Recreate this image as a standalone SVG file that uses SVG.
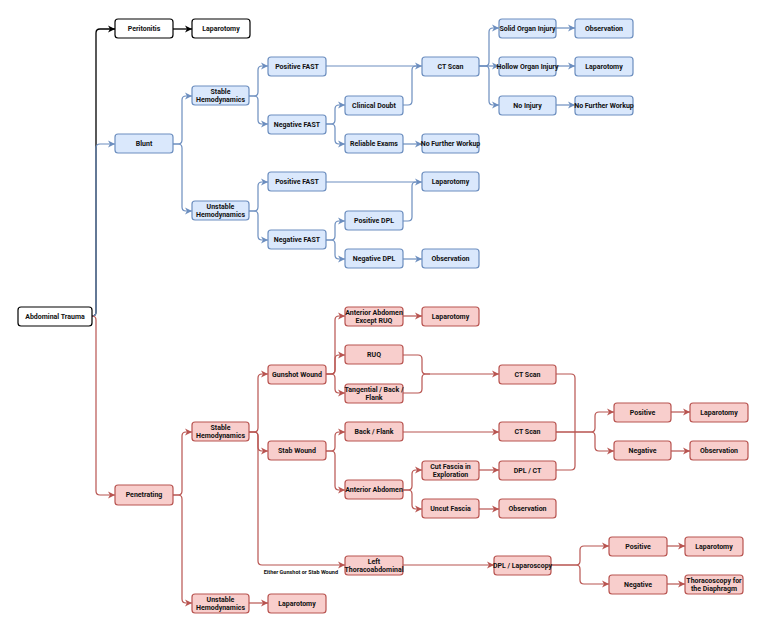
<svg xmlns="http://www.w3.org/2000/svg" width="768" height="634" viewBox="0 0 768 634">
<style>
text{font-family:Roboto,"Liberation Sans",sans-serif;font-size:7px;font-weight:bold;fill:#111;text-anchor:middle}
.k rect{fill:#fff;stroke:#000;stroke-width:1.2}
.b rect{fill:#dae8fc;stroke:#6c8ebf;stroke-width:1.2}
.r rect{fill:#f8cecc;stroke:#b85450;stroke-width:1.2}
.ck path{fill:none;stroke:#000;stroke-width:1.3}
.cb path{fill:none;stroke:#6c8ebf;stroke-width:1.2}
.cr path{fill:none;stroke:#b85450;stroke-width:1.2}
.ck path.a{marker-end:url(#mk)}
.cb path.a{marker-end:url(#mb)}
.cr path.a{marker-end:url(#mr)}
</style>
<defs>
<marker id="mk" markerUnits="userSpaceOnUse" markerWidth="8" markerHeight="8" refX="7" refY="4" orient="auto"><path d="M0,0.5 L7,4 L0,7.5 L2,4 Z" fill="#000"/></marker>
<marker id="mb" markerUnits="userSpaceOnUse" markerWidth="8" markerHeight="8" refX="7" refY="4" orient="auto"><path d="M0,0.5 L7,4 L0,7.5 L2,4 Z" fill="#6c8ebf"/></marker>
<marker id="mr" markerUnits="userSpaceOnUse" markerWidth="8" markerHeight="8" refX="7" refY="4" orient="auto"><path d="M0,0.5 L7,4 L0,7.5 L2,4 Z" fill="#b85450"/></marker>
</defs>
<rect width="768" height="634" fill="#fff"/>
<g id="connectors">
<g class="ck">
<path class="a" d="M92 316 Q96 316 96 312 V33 Q96 29 100 29 H115"/>
<path class="a" d="M173 29 H192"/>
</g>
<g class="cb">
<path class="a" d="M92 316 Q96 316 96 312 V148 Q96 144 100 144 H115"/>
<path class="a" d="M173 144 H178 Q182 144 182 140 V100 Q182 96 186 96 H192"/>
<path class="a" d="M173 144 H178 Q182 144 182 148 V207 Q182 211 186 211 H192"/>
<path class="a" d="M249 96 H254 Q258 96 258 92 V70 Q258 66 262 66 H268"/>
<path class="a" d="M249 96 H254 Q258 96 258 100 V120 Q258 124 262 124 H268"/>
<path class="a" d="M326 124 H331 Q335 124 335 120 V109 Q335 105 339 105 H345"/>
<path class="a" d="M326 124 H331 Q335 124 335 128 V140 Q335 144 339 144 H345"/>
<path class="a" d="M326 66 H422"/>
<path d="M403 105 H408 Q412 105 412 101 V70 Q412 66 416 66 H418"/>
<path class="a" d="M403 144 H422"/>
<path class="a" d="M479 66 H485 Q489 66 489 62 V32 Q489 28 493 28 H499"/>
<path class="a" d="M479 66 H499"/>
<path class="a" d="M479 66 H485 Q489 66 489 70 V101 Q489 105 493 105 H499"/>
<path class="a" d="M556 28 H575"/>
<path class="a" d="M556 66 H575"/>
<path class="a" d="M556 105 H575"/>
<path class="a" d="M249 211 H254 Q258 211 258 207 V186 Q258 182 262 182 H268"/>
<path class="a" d="M249 211 H254 Q258 211 258 215 V236 Q258 240 262 240 H268"/>
<path class="a" d="M326 240 H331 Q335 240 335 236 V225 Q335 221 339 221 H345"/>
<path class="a" d="M326 240 H331 Q335 240 335 244 V255 Q335 259 339 259 H345"/>
<path class="a" d="M326 182 H422"/>
<path d="M403 221 H408 Q412 221 412 217 V186 Q412 182 416 182 H418"/>
<path class="a" d="M403 259 H422"/>
</g>
<g class="cr">
<path class="a" d="M92 316 Q96 316 96 320 V491 Q96 495 100 495 H115"/>
<path class="a" d="M173 495 H178 Q182 495 182 491 V436 Q182 432 186 432 H192"/>
<path class="a" d="M173 495 H178 Q182 495 182 499 V599 Q182 603 186 603 H192"/>
<path class="a" d="M249 432 H254 Q258 432 258 428 V378 Q258 374 262 374 H268"/>
<path class="a" d="M249 432 H254 Q258 432 258 436 V447 Q258 451 262 451 H268"/>
<path class="a" d="M249 432 H254 Q258 432 258 436 V561 Q258 565 262 565 H345"/>
<path class="a" d="M326 374 H331 Q335 374 335 370 V320 Q335 316 339 316 H345"/>
<path class="a" d="M326 374 H331 Q335 374 335 370 V359 Q335 355 339 355 H345"/>
<path class="a" d="M326 374 H331 Q335 374 335 378 V389 Q335 393 339 393 H345"/>
<path class="a" d="M403 316 H422"/>
<path class="a" d="M403 355 H418 Q422 355 422 359 V370 Q422 374 426 374 H499"/>
<path d="M403 393 H418 Q422 393 422 389 V378 Q422 374 426 374 H430"/>
<path class="a" d="M326 451 H331 Q335 451 335 447 V436 Q335 432 339 432 H345"/>
<path class="a" d="M326 451 H331 Q335 451 335 455 V486 Q335 490 339 490 H345"/>
<path class="a" d="M403 432 H499"/>
<path class="a" d="M403 490 H408 Q412 490 412 486 V474 Q412 470 416 470 H422"/>
<path class="a" d="M403 490 H408 Q412 490 412 494 V505 Q412 509 416 509 H422"/>
<path class="a" d="M479 470 H499"/>
<path class="a" d="M479 509 H499"/>
<path d="M556 374 H571 Q575 374 575 378 V466 Q575 470 571 470 H556"/>
<path class="a" d="M556 432 H591 Q595 432 595 428 V416 Q595 412 599 412 H614"/>
<path class="a" d="M556 432 H591 Q595 432 595 436 V447 Q595 451 599 451 H614"/>
<path class="a" d="M671 412 H690"/>
<path class="a" d="M671 451 H690"/>
<path class="a" d="M403 565 H494"/>
<path class="a" d="M551 565 H576 Q580 565 580 561 V550 Q580 546 584 546 H609"/>
<path class="a" d="M551 565 H576 Q580 565 580 569 V580 Q580 584 584 584 H609"/>
<path class="a" d="M667 546 H685"/>
<path class="a" d="M667 584 H685"/>
<path class="a" d="M249 603 H268"/>
</g>
<text x="338" y="574" style="font-size:5.5px;text-anchor:end">Either Gunshot or Stab Wound</text>
</g>
<g id="abdominal-trauma" class="k"><rect x="18" y="307" width="74" height="19" rx="3"/><text x="55" y="319">Abdominal Trauma</text></g>
<g id="peritonitis" class="k"><rect x="115" y="19" width="58" height="19" rx="3"/><text x="144" y="31">Peritonitis</text></g>
<g id="lap-peritonitis" class="k"><rect x="192" y="19" width="58" height="19" rx="3"/><text x="221" y="31">Laparotomy</text></g>
<g id="blunt" class="b"><rect x="115" y="134" width="58" height="19" rx="3"/><text x="144" y="146">Blunt</text></g>
<g id="b-stable" class="b"><rect x="192" y="86" width="57" height="19" rx="3"/><text x="220.5" y="94">Stable</text><text x="220.5" y="101.5">Hemodynamics</text></g>
<g id="b-posfast1" class="b"><rect x="268" y="57" width="58" height="19" rx="3"/><text x="297" y="69">Positive FAST</text></g>
<g id="b-negfast1" class="b"><rect x="268" y="115" width="58" height="19" rx="3"/><text x="297" y="127">Negative FAST</text></g>
<g id="b-clinical" class="b"><rect x="345" y="96" width="58" height="19" rx="3"/><text x="374" y="108">Clinical Doubt</text></g>
<g id="b-reliable" class="b"><rect x="345" y="134" width="58" height="19" rx="3"/><text x="374" y="146">Reliable Exams</text></g>
<g id="b-ct" class="b"><rect x="422" y="57" width="57" height="19" rx="3"/><text x="450.5" y="69">CT Scan</text></g>
<g id="b-nfw1" class="b"><rect x="422" y="134" width="57" height="19" rx="3"/><text x="450.5" y="146">No Further Workup</text></g>
<g id="b-solid" class="b"><rect x="499" y="19" width="57" height="19" rx="3"/><text x="527.5" y="31">Solid Organ Injury</text></g>
<g id="b-hollow" class="b"><rect x="499" y="57" width="57" height="19" rx="3"/><text x="527.5" y="69">Hollow Organ Injury</text></g>
<g id="b-noinj" class="b"><rect x="499" y="96" width="57" height="19" rx="3"/><text x="527.5" y="108">No Injury</text></g>
<g id="b-obs1" class="b"><rect x="575" y="19" width="58" height="19" rx="3"/><text x="604" y="31">Observation</text></g>
<g id="b-lap1" class="b"><rect x="575" y="57" width="58" height="19" rx="3"/><text x="604" y="69">Laparotomy</text></g>
<g id="b-nfw2" class="b"><rect x="575" y="96" width="58" height="19" rx="3"/><text x="604" y="108">No Further Workup</text></g>
<g id="b-unstable" class="b"><rect x="192" y="201" width="57" height="19" rx="3"/><text x="220.5" y="209">Unstable</text><text x="220.5" y="216.5">Hemodynamics</text></g>
<g id="b-posfast2" class="b"><rect x="268" y="172" width="58" height="19" rx="3"/><text x="297" y="184">Positive FAST</text></g>
<g id="b-negfast2" class="b"><rect x="268" y="230" width="58" height="19" rx="3"/><text x="297" y="242">Negative FAST</text></g>
<g id="b-posdpl" class="b"><rect x="345" y="211" width="58" height="19" rx="3"/><text x="374" y="223">Positive DPL</text></g>
<g id="b-negdpl" class="b"><rect x="345" y="249" width="58" height="19" rx="3"/><text x="374" y="261">Negative DPL</text></g>
<g id="b-lap2" class="b"><rect x="422" y="172" width="57" height="19" rx="3"/><text x="450.5" y="184">Laparotomy</text></g>
<g id="b-obs2" class="b"><rect x="422" y="249" width="57" height="19" rx="3"/><text x="450.5" y="261">Observation</text></g>
<g id="penetrating" class="r"><rect x="115" y="485" width="58" height="20" rx="3"/><text x="144" y="497">Penetrating</text></g>
<g id="p-stable" class="r"><rect x="192" y="422" width="57" height="19" rx="3"/><text x="220.5" y="430">Stable</text><text x="220.5" y="437.5">Hemodynamics</text></g>
<g id="p-unstable" class="r"><rect x="192" y="594" width="57" height="19" rx="3"/><text x="220.5" y="602">Unstable</text><text x="220.5" y="609.5">Hemodynamics</text></g>
<g id="p-lap-unstable" class="r"><rect x="268" y="594" width="58" height="19" rx="3"/><text x="297" y="606">Laparotomy</text></g>
<g id="p-gunshot" class="r"><rect x="268" y="365" width="58" height="19" rx="3"/><text x="297" y="377">Gunshot Wound</text></g>
<g id="p-stab" class="r"><rect x="268" y="441" width="58" height="19" rx="3"/><text x="297" y="453">Stab Wound</text></g>
<g id="p-antruq" class="r"><rect x="345" y="307" width="58" height="19" rx="3"/><text x="374" y="315">Anterior Abdomen</text><text x="374" y="322.5">Except RUQ</text></g>
<g id="p-lap1" class="r"><rect x="422" y="307" width="57" height="19" rx="3"/><text x="450.5" y="319">Laparotomy</text></g>
<g id="p-ruq" class="r"><rect x="345" y="345" width="58" height="19" rx="3"/><text x="374" y="357">RUQ</text></g>
<g id="p-tangential" class="r"><rect x="345" y="384" width="58" height="19" rx="3"/><text x="374" y="392">Tangential / Back /</text><text x="374" y="399.5">Flank</text></g>
<g id="p-ct1" class="r"><rect x="499" y="365" width="57" height="19" rx="3"/><text x="527.5" y="377">CT Scan</text></g>
<g id="p-backflank" class="r"><rect x="345" y="422" width="58" height="19" rx="3"/><text x="374" y="434">Back / Flank</text></g>
<g id="p-ct2" class="r"><rect x="499" y="422" width="57" height="19" rx="3"/><text x="527.5" y="434">CT Scan</text></g>
<g id="p-antabd" class="r"><rect x="345" y="480" width="58" height="19" rx="3"/><text x="374" y="492">Anterior Abdomen</text></g>
<g id="p-cut" class="r"><rect x="422" y="461" width="57" height="19" rx="3"/><text x="450.5" y="469">Cut Fascia in</text><text x="450.5" y="476.5">Exploration</text></g>
<g id="p-dplct" class="r"><rect x="499" y="461" width="57" height="19" rx="3"/><text x="527.5" y="473">DPL / CT</text></g>
<g id="p-uncut" class="r"><rect x="422" y="499" width="57" height="19" rx="3"/><text x="450.5" y="511">Uncut Fascia</text></g>
<g id="p-obs1" class="r"><rect x="499" y="499" width="57" height="19" rx="3"/><text x="527.5" y="511">Observation</text></g>
<g id="p-pos1" class="r"><rect x="614" y="403" width="57" height="19" rx="3"/><text x="642.5" y="415">Positive</text></g>
<g id="p-neg1" class="r"><rect x="614" y="441" width="57" height="19" rx="3"/><text x="642.5" y="453">Negative</text></g>
<g id="p-lap2" class="r"><rect x="690" y="403" width="58" height="19" rx="3"/><text x="719" y="415">Laparotomy</text></g>
<g id="p-obs2" class="r"><rect x="690" y="441" width="58" height="19" rx="3"/><text x="719" y="453">Observation</text></g>
<g id="p-leftthoraco" class="r"><rect x="345" y="556" width="58" height="19" rx="3"/><text x="374" y="564">Left</text><text x="374" y="571.5">Thoracoabdominal</text></g>
<g id="p-dpllap" class="r"><rect x="494" y="556" width="57" height="19" rx="3"/><text x="522.5" y="568">DPL / Laparoscopy</text></g>
<g id="p-pos2" class="r"><rect x="609" y="537" width="58" height="19" rx="3"/><text x="638" y="549">Positive</text></g>
<g id="p-neg2" class="r"><rect x="609" y="575" width="58" height="19" rx="3"/><text x="638" y="587">Negative</text></g>
<g id="p-lap3" class="r"><rect x="685" y="537" width="58" height="19" rx="3"/><text x="714" y="549">Laparotomy</text></g>
<g id="p-thoracoscopy" class="r"><rect x="685" y="575" width="58" height="19" rx="3"/><text x="714" y="583">Thoracoscopy for</text><text x="714" y="590.5">the Diaphragm</text></g>
</svg>
